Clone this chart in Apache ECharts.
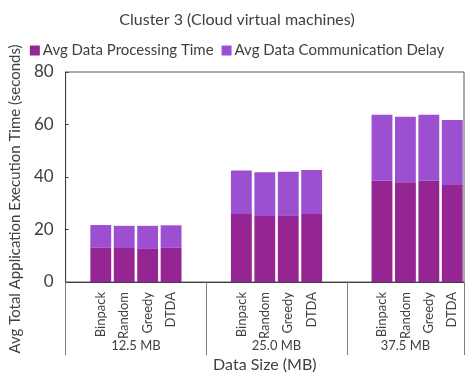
<!DOCTYPE html>
<html><head><meta charset="utf-8">
<script src="https://cdn.jsdelivr.net/npm/echarts@6/dist/echarts.min.js"></script>
<style>html,body{margin:0;padding:0;background:#fff}#c{width:474px;height:384px}</style>
</head><body><div id="c"></div>
<script>
const groups = ['12.5 MB', '25.0 MB', '37.5 MB'];
const methods = ['Binpack', 'Random', 'Greedy', 'DTDA'];
const processing_12_5 = [13.2, 12.95, 12.6, 13.0];
const processing_25_0 = [25.9, 25.1, 25.4, 25.9];
const processing_37_5 = [38.7, 38.0, 38.6, 37.0];
const delay_12_5 = [8.5, 8.45, 8.8, 8.6];
const delay_25_0 = [16.6, 16.7, 16.6, 16.8];
const delay_37_5 = [25.0, 25.0, 25.1, 24.7];
const yTicks = [0, 20, 40, 60, 80];

const procGroups = [processing_12_5, processing_25_0, processing_37_5];
const delayGroups = [delay_12_5, delay_25_0, delay_37_5];

// slots: blank, 4 methods, blank (last group has no trailing blank)
const slots = [], procData = [], delayData = [];
const groupCenters = [];
let pos = 0;
groups.forEach((g, gi) => {
  const start = pos;
  slots.push(''); procData.push('-'); delayData.push('-'); pos++;
  methods.forEach((m, mi) => {
    slots.push(m); procData.push(procGroups[gi][mi]); delayData.push(delayGroups[gi][mi]); pos++;
  });
  if (gi < groups.length - 1) { slots.push(''); procData.push('-'); delayData.push('-'); pos++; }
  groupCenters.push(((start + pos) / 2));
});
const nSlots = slots.length;
const half = [];
for (let i = 0; i <= nSlots * 2; i++) half.push('');
groupCenters.forEach((c, gi) => { half[Math.round(c * 2)] = groups[gi]; });
const boundaries = [0];
{ let p = 0; groups.forEach((g, gi) => { p += (gi < groups.length - 1) ? 6 : 5; boundaries.push(p * 2); }); }

const FONT = 'Lato';
const chart = echarts.init(document.getElementById('c'));
chart.setOption({
  animation: false,
  textStyle: { fontFamily: FONT },
  title: {
    text: 'Cluster 3 (Cloud virtual machines)', left: 'center', top: 7,
    textStyle: { fontFamily: FONT, fontSize: 16, fontWeight: 'normal', color: '#404040' }
  },
  legend: {
    top: 38, left: 'center', itemWidth: 10, itemHeight: 10, itemGap: 8,
    icon: 'rect',
    textStyle: { fontFamily: FONT, fontSize: 15, color: '#404040', padding: [0, 0, 0, -2] },
    data: ['Avg Data Processing Time', 'Avg Data Communication Delay']
  },
  grid: { left: 61, right: 10, top: 72, bottom: 102, show: true, borderColor: '#595959', borderWidth: 1 },
  xAxis: [{
    type: 'category', data: slots, position: 'bottom',
    axisLine: { lineStyle: { color: '#404040' } },
    axisTick: { show: false },
    axisLabel: { interval: 0, rotate: 90, fontFamily: FONT, fontSize: 13, color: '#404040', margin: 10 }
  }, {
    type: 'category', data: half, boundaryGap: false, position: 'bottom',
    axisLine: { show: false },
    axisTick: { show: true, length: 73, interval: (i) => boundaries.indexOf(i) >= 0, lineStyle: { color: '#7f7f7f' } },
    axisLabel: { interval: 0, fontFamily: FONT, fontSize: 13, color: '#404040', margin: 57 },
    name: 'Data Size (MB)', nameLocation: 'middle', nameGap: 75,
    nameTextStyle: { fontFamily: FONT, fontSize: 16, color: '#404040' }
  }],
  yAxis: {
    type: 'value', min: yTicks[0], max: yTicks[yTicks.length - 1], interval: 20,
    splitLine: { show: false },
    axisLine: { show: true, lineStyle: { color: '#404040' } },
    axisTick: { show: true, inside: true, length: 3, lineStyle: { color: '#404040' } },
    axisLabel: { fontFamily: FONT, fontSize: 17, color: '#404040', margin: 12 },
    name: 'Avg Total Application Execution Time (seconds)', nameLocation: 'middle', nameGap: 42,
    nameTextStyle: { fontFamily: FONT, fontSize: 15, color: '#404040', padding: [0, 44, 0, 0] }
  },
  series: [{
    name: 'Avg Data Processing Time', type: 'bar', stack: 't', xAxisIndex: 0,
    data: procData, barWidth: '89%', itemStyle: { color: '#952592' }
  }, {
    name: 'Avg Data Communication Delay', type: 'bar', stack: 't', xAxisIndex: 0,
    data: delayData, barWidth: '89%', itemStyle: { color: '#9C4FD1' }
  }]
});
</script></body></html>
